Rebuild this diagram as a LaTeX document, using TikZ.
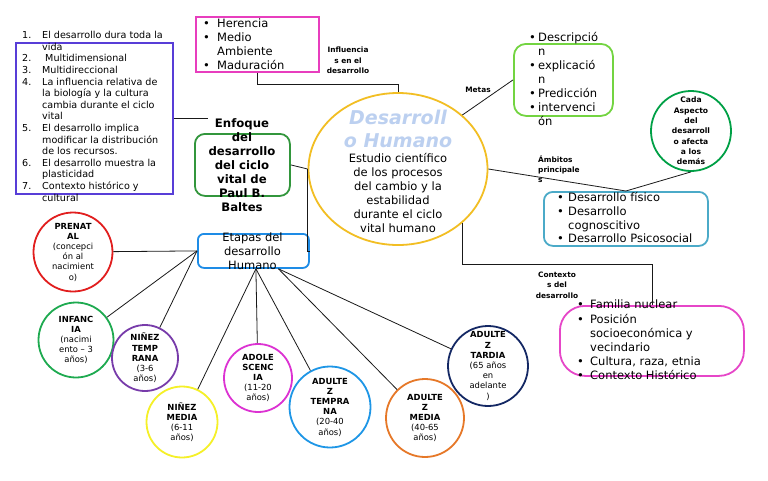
\documentclass[tikz,border=0pt]{standalone}
\usepackage{fontspec}
\setmainfont{DejaVu Sans}
\usetikzlibrary{shapes.geometric,calc}
\definecolor{cList}{RGB}{88,62,215}
\definecolor{cPink}{RGB}{232,62,190}
\definecolor{cEnf}{RGB}{50,150,60}
\definecolor{cEta}{RGB}{30,140,230}
\definecolor{cGold}{RGB}{242,190,35}
\definecolor{cTitle}{RGB}{188,208,240}
\definecolor{cMetas}{RGB}{115,212,65}
\definecolor{cCada}{RGB}{0,160,70}
\definecolor{cAmb}{RGB}{75,170,200}
\definecolor{cCtx}{RGB}{230,70,200}
\definecolor{cRed}{RGB}{225,30,30}
\definecolor{cInf}{RGB}{30,170,80}
\definecolor{cPur}{RGB}{120,60,170}
\definecolor{cYel}{RGB}{245,240,40}
\definecolor{cMag}{RGB}{220,50,210}
\definecolor{cBlu}{RGB}{30,150,230}
\definecolor{cOra}{RGB}{230,120,40}
\definecolor{cNav}{RGB}{20,40,100}
\newcommand{\bitem}[1]{\makebox[#1][l]{•}}
\newcommand{\fsA}{\fontsize{11.5}{14}\selectfont}
\begin{document}
\begin{tikzpicture}[x=1pt,y=-1pt]
\tikzset{
 conn/.style={draw=black!90, line width=0.8pt},
 frame/.style={draw, line width=1.8pt, inner sep=0pt, anchor=north west},
 txt/.style={inner sep=0pt, align=left, anchor=north west},
 ctxt/.style={inner sep=0pt, align=center, anchor=north},
 lbl/.style={inner sep=0pt, align=center, anchor=north, font=\fontsize{7.4}{10.3}\selectfont\bfseries},
 stage/.style={circle, draw, line width=1.8pt, inner sep=0pt, align=center, font=\fontsize{8.4}{10.2}\selectfont},
}
\useasboundingbox[fill=white] (0,0) rectangle (768,480);

% boxes
\node[frame, draw=cList, minimum width=157pt, minimum height=151pt] (lst) at (15,42) {};
\node[frame, draw=cPink, minimum width=123pt, minimum height=55pt] (her) at (195,16) {};
\node[frame, draw=cEnf, rounded corners=10pt, minimum width=95pt, minimum height=62pt] (enf) at (194,133) {};
\node[frame, draw=cEta, rounded corners=6pt, minimum width=111pt, minimum height=34pt] (eta) at (197,233) {};
\node[ellipse, draw=cGold, line width=1.8pt, minimum width=179pt, minimum height=152pt, inner sep=0pt] (ell) at (398,169) {};
\node[frame, draw=cMetas, rounded corners=12pt, minimum width=99pt, minimum height=72pt] (met) at (513,43) {};
\node[frame, draw=cAmb, rounded corners=9pt, minimum width=164pt, minimum height=54pt] (amb) at (543,191) {};
\node[frame, draw=cCtx, rounded corners=25pt, minimum width=184pt, minimum height=70pt] (ctx) at (559,305) {};
\node[stage, draw=cCada, minimum size=80pt, font=\fontsize{7.6}{10.3}\selectfont\bfseries] (cada) at (691,131) {Cada\\Aspecto\\del\\desarroll\\o afecta\\a los\\demás};

% texts
\node[txt, font=\fontsize{9.6}{11.6}\selectfont] (lsttxt) at (22,31.2) {%
\makebox[20pt][l]{1.}El desarrollo dura toda la\\
\hspace*{20pt}vida\\
\makebox[20pt][l]{2.}\ Multidimensional\\
\makebox[20pt][l]{3.}Multidireccional\\
\makebox[20pt][l]{4.}La influencia relativa de\\
\hspace*{20pt}la biología y la cultura\\
\hspace*{20pt}cambia durante el ciclo\\
\hspace*{20pt}vital\\
\makebox[20pt][l]{5.}El desarrollo implica\\
\hspace*{20pt}modificar la distribución\\
\hspace*{20pt}de los recursos.\\
\makebox[20pt][l]{6.}El desarrollo muestra la\\
\hspace*{20pt}plasticidad\\
\makebox[20pt][l]{7.}Contexto histórico y\\
\hspace*{20pt}cultural};
\node[txt, font=\fsA] (hertxt) at (203,18.4) {\bitem{14pt}Herencia\\\bitem{14pt}Medio\\\hspace*{14pt}Ambiente\\\bitem{14pt}Maduración};
\node[lbl] (linf) at (348,47) {Influencia\\s en el\\desarrollo};
\node[ctxt, font=\fontsize{11.7}{14}\selectfont\bfseries] (enftxt) at (242,118.3) {Enfoque\\del\\desarrollo\\del ciclo\\vital de\\Paul B.\\Baltes};
\node[ctxt, font=\fsA] (etatxt) at (252.5,232.4) {Etapas del\\desarrollo\\Humano};
\node[ctxt, font=\fontsize{19}{23}\selectfont\bfseries\itshape, text=cTitle] (ttl) at (398,109.5) {Desarroll\\o Humano};
\node[ctxt, font=\fsA] (sub) at (398,153.4) {Estudio científico\\de los procesos\\del cambio y la\\estabilidad\\durante el ciclo\\vital humano};
\node[txt, font=\fsA] (mettxt) at (529,32.4) {\bitem{9pt}Descripció\\\hspace*{9pt}n\\\bitem{9pt}explicació\\\hspace*{9pt}n\\\bitem{9pt}Predicción\\\bitem{9pt}intervenci\\\hspace*{9pt}ón};
\node[lbl] (lmet) at (478,87) {Metas};
\node[lbl, align=left, anchor=north west] (lamb) at (538,155) {Ámbitos\\principale\\s};
\node[txt, font=\fontsize{11.5}{13.7}\selectfont] (ambtxt) at (557,192.4) {\bitem{11pt}Desarrollo físico\\\bitem{11pt}Desarrollo\\\hspace*{11pt}cognoscitivo\\\bitem{11pt}Desarrollo Psicosocial};
\node[lbl] (lctx) at (557,272) {Contexto\\s del\\desarrollo};
\node[txt, font=\fontsize{11.5}{14.1}\selectfont] (ctxtxt) at (577,300) {\bitem{13pt}Familia nuclear\\\bitem{13pt}Posición\\\hspace*{13pt}socioeconómica y\\\hspace*{13pt}vecindario\\\bitem{13pt}Cultura, raza, etnia\\\bitem{13pt}Contexto Histórico};

% stages
\node[stage, draw=cRed, minimum size=79pt] (prenatal) at (73,252) {\textbf{PRENAT}\\\textbf{AL}\\(concepci\\ón al\\nacimient\\o)};
\node[stage, draw=cInf, minimum size=75pt] (infancia) at (76,340) {\textbf{INFANC}\\\textbf{IA}\\(nacimi\\ento – 3\\años)};
\node[stage, draw=cPur, minimum size=66pt] (ntemprana) at (145,358) {\textbf{NIÑEZ}\\\textbf{TEMP}\\\textbf{RANA}\\(3-6\\años)};
\node[stage, draw=cYel, minimum size=71pt] (nmedia) at (182,422) {\textbf{NIÑEZ}\\\textbf{MEDIA}\\(6-11\\años)};
\node[stage, draw=cMag, minimum size=68pt] (adolesc) at (258,378) {\textbf{ADOLE}\\\textbf{SCENC}\\\textbf{IA}\\(11-20\\años)};
\node[stage, draw=cBlu, minimum size=81pt] (atemprana) at (330,407) {\textbf{ADULTE}\\\textbf{Z}\\\textbf{TEMPRA}\\\textbf{NA}\\(20-40\\años)};
\node[stage, draw=cOra, minimum size=78pt] (amedia) at (425,418) {\textbf{ADULTE}\\\textbf{Z}\\\textbf{MEDIA}\\(40-65\\años)};
\node[stage, draw=cNav, minimum size=80pt] (atardia) at (488,366) {\textbf{ADULTE}\\\textbf{Z}\\\textbf{TARDIA}\\(65 años\\en\\adelante\\)};

% connectors
\draw[conn] (lst.east) -- (lst.east -| enftxt.west);
\draw[conn] (enf.east) -- (ell.west);
\draw[conn] (ell.west) |- (eta.east);
\draw[conn] (her.south) -- ++(0,12) -| (ell.north);
\draw[conn] (ell.40) -- (met.west);
\draw[conn] (ell.east) -- (amb.north) -- (cada.south);
\draw[conn] (ell.-40) |- ($(ctx.north)+(0,-41)$) -- (ctx.north);
\draw[conn] (prenatal) -- (eta.west);
\draw[conn] (infancia) -- (eta.west);
\draw[conn] (ntemprana) -- (eta.west);
\coordinate (eb1) at ($(eta.south)+(2.5,0)$);
\coordinate (eb2) at ($(eta.south)+(25,0)$);
\draw[conn] (eb1) -- (nmedia);
\draw[conn] (eb1) -- (adolesc);
\draw[conn] (eb1) -- (atemprana);
\draw[conn] (eb2) -- (amedia);
\draw[conn] (eb2) -- (atardia);
\end{tikzpicture}
\end{document}
